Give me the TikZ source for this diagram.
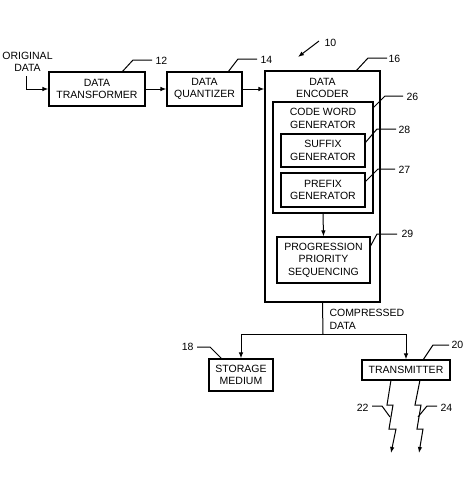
\documentclass[tikz,border=0pt]{standalone}
\usepackage{fontspec}
\setmainfont{Liberation Sans}
\usetikzlibrary{arrows.meta,calc}
\begin{document}
\begin{tikzpicture}[x=1pt,y=-1pt,
  font=\fontsize{10.5}{12.5}\selectfont,
  line width=1pt,
  box/.style={draw, line width=1.1pt, align=center, inner sep=0pt},
  arr/.style={-{Latex[length=6pt,width=4.5pt]}},
  lbl/.style={inner sep=1pt},
  ttl/.style={align=center, inner sep=0pt}]
\useasboundingbox (0,0) rectangle (474,499);

% main boxes
\node[box, minimum width=96, minimum height=34] (dt) at (97,89) {DATA\\TRANSFORMER};
\node[box, minimum width=75, minimum height=34] (dq) at (204.5,89) {DATA\\QUANTIZER};
\node[box, minimum width=115, minimum height=231] (enc) at (322.5,186.5) {};
\node[ttl] (enct) at (322.5,88) {DATA\\ENCODER};
\node[box, minimum width=100, minimum height=111] (cw) at (323,157.5) {};
\node[ttl] (cwt) at (323,118.5) {CODE WORD\\GENERATOR};
\node[box, minimum width=84, minimum height=33] (suf) at (323,150.5) {SUFFIX\\GENERATOR};
\node[box, minimum width=84, minimum height=34] (pre) at (323,190) {PREFIX\\GENERATOR};
\node[box, minimum width=93, minimum height=46] (pps) at (323.5,260) {PROGRESSION\\PRIORITY\\SEQUENCING};
\node[box, minimum width=64, minimum height=32] (sto) at (241,375) {STORAGE\\MEDIUM};
\node[box, minimum width=88, minimum height=20] (tx) at (406,370) {TRANSMITTER};

% input text
\node[ttl] (od) at (27.5,62) {ORIGINAL\\DATA};
\coordinate (in) at (26,76);
\draw[arr] (in) |- (dt.west);
\draw[arr] (dt.east) -- (dq.west);
\draw[arr] (dq.east) -- (enc.west |- dq.east);
\draw[arr] (cw.south) -- (pps.north);

% output
\coordinate (j) at (323,334);
\draw (enc.south) -- (j);
\node[anchor=north west, align=left, inner sep=0pt] (cd) at (329,309) {COMPRESSED\\DATA};
\draw[arr] (j) -| (sto.north);
\draw[arr] (j) -| (tx.north);

% lightning bolts
\coordinate (b1e) at (391,453);
\coordinate (b2e) at (419,453);
\draw[arr] (391,380) -- (387,405) -- (393,405) -- (389,429) -- (396,429) -- (b1e);
\draw[arr] (420,380) -- (415,405) -- (421,405) -- (417,429) -- (423,429) -- (b2e);

% reference numerals
\node[lbl, anchor=west] (n10) at (323,43) {10};
\draw[arr] (n10.west) ++(-4,-2) -- (298,57);
\node[lbl, anchor=west] (n12) at (154,61) {12};
\draw (122,72) -- (133,60) -- (152,60);
\node[lbl, anchor=west] (n14) at (259,60) {14};
\draw (228,72) -- (238,59) -- (257,59);
\node[lbl, anchor=west] (n16) at (387,59) {16};
\draw (356,71) -- (368,58) -- (387,58);
\node[lbl, anchor=west] (n26) at (405,97) {26};
\draw (373,108) -- (385,96) -- (403,96);
\node[lbl, anchor=west] (n28) at (397,130) {28};
\draw (365,143) -- (377,129) -- (396,129);
\node[lbl, anchor=west] (n27) at (397,170) {27};
\draw (365,182) -- (378,169) -- (395,169);
\node[lbl, anchor=west] (n29) at (400,234) {29};
\draw (370,247) -- (377,234) -- (397,234);
\node[lbl, anchor=east] (n18) at (195,347) {18};
\draw (197,347) -- (210,347) -- (222,359);
\node[lbl, anchor=west] (n20) at (450,345) {20};
\draw (423,360) -- (433,345) -- (449,345);
\node[lbl, anchor=east] (n22) at (370,408) {22};
\draw (372,406) -- (382,406) -- (390,417);
\node[lbl, anchor=west] (n24) at (439,408) {24};
\draw (437,406) -- (427,406) -- (418,417);
\end{tikzpicture}
\end{document}
